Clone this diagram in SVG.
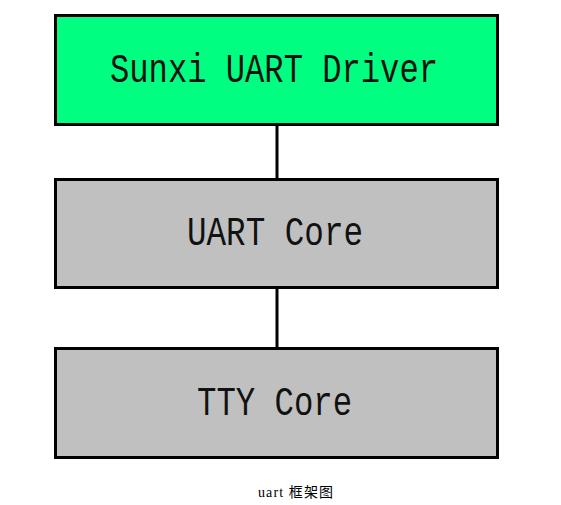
<svg xmlns="http://www.w3.org/2000/svg" width="561" height="505" viewBox="0 0 561 505">
<style>
.box{stroke:#000;stroke-width:3}
.lbl{font-family:"Liberation Mono","DejaVu Sans Mono",monospace;font-size:40px;fill:#111;text-anchor:middle}
.conn{stroke:#000;stroke-width:3;fill:none}
.cap{font-family:"Liberation Serif","Noto Sans CJK SC",serif;font-size:14px;fill:#000}
</style>
<rect width="561" height="505" fill="#fff"/>
<g id="connectors">
<line class="conn" x1="277" y1="124" x2="277" y2="179"/>
<line class="conn" x1="277" y1="288" x2="277" y2="348"/>
</g>
<g id="sunxi-uart-driver">
<rect class="box" x="55.5" y="15.5" width="442" height="109" fill="#00FF80"/>
<text class="lbl" x="274" y="82" textLength="328" lengthAdjust="spacingAndGlyphs">Sunxi UART Driver</text>
</g>
<g id="uart-core">
<rect class="box" x="55.5" y="179.5" width="442" height="108" fill="#C0C0C0"/>
<text class="lbl" x="275" y="245" textLength="176" lengthAdjust="spacingAndGlyphs">UART Core</text>
</g>
<g id="tty-core">
<rect class="box" x="55.5" y="348.5" width="442" height="109" fill="#C0C0C0"/>
<text class="lbl" x="274.5" y="415" textLength="155" lengthAdjust="spacingAndGlyphs">TTY Core</text>
</g>
<text class="cap" x="258" y="497" textLength="75" lengthAdjust="spacing">uart 框架图</text>
</svg>
